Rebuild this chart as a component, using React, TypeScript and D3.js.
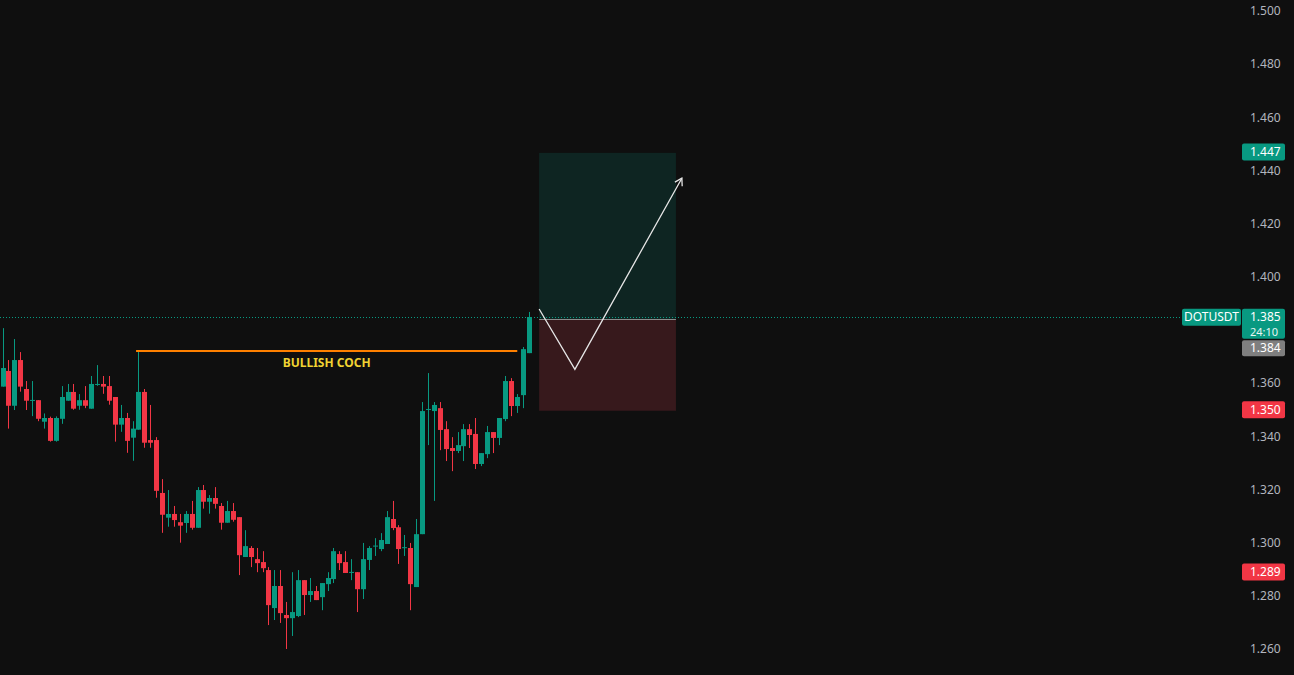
import { useEffect, useRef } from 'react';
import * as d3 from 'd3';

// OHLC, one entry per bar (oldest first)
const opens = [
  1.3587, 1.3646, 1.3515, 1.3687, 1.3578, 1.3534, 1.3536, 1.3455, 1.3469, 1.3383,
  1.3466, 1.3534, 1.3567, 1.3515, 1.3536, 1.3504, 1.3595, 1.3597, 1.3589, 1.3548,
  1.3444, 1.3469, 1.3395, 1.3425, 1.3567, 1.3386, 1.3386, 1.3187, 1.3094, 1.3108,
  1.3077, 1.3074, 1.3108, 1.3056, 1.3198, 1.3154, 1.3168, 1.3138, 1.3075, 1.3119,
  1.3096, 1.2946, 1.2980, 1.2938, 1.2927, 1.2897, 1.2754, 1.2837, 1.2728, 1.2716,
  1.2724, 1.2859, 1.2803, 1.2818, 1.2795, 1.2844, 1.2863, 1.2957, 1.2927, 1.2888,
  1.2889, 1.2825, 1.2935, 1.2987, 1.2976, 1.2995, 1.3089, 1.3058, 1.2980, 1.2980,
  1.2833, 1.3032, 1.3500, 1.3495, 1.3506, 1.3427, 1.3356, 1.3345, 1.3363, 1.3427,
  1.3409, 1.3296, 1.3333, 1.3416, 1.3394, 1.3465, 1.3608, 1.3514, 1.3555, 1.3713,
];
const highs = [
  1.3807, 1.3687, 1.3766, 1.3717, 1.3608, 1.3608, 1.3536, 1.3486, 1.3474, 1.3475,
  1.3589, 1.3597, 1.3597, 1.3559, 1.3589, 1.3627, 1.3668, 1.3627, 1.3627, 1.3548,
  1.3518, 1.3488, 1.3457, 1.3721, 1.3578, 1.3518, 1.3397, 1.3239, 1.3198, 1.3138,
  1.3108, 1.3119, 1.3157, 1.3209, 1.3217, 1.3179, 1.3209, 1.3149, 1.3157, 1.3149,
  1.3096, 1.3047, 1.2987, 1.2980, 1.2968, 1.2908, 1.2897, 1.2897, 1.2777, 1.2889,
  1.2897, 1.2859, 1.2867, 1.2837, 1.2848, 1.2889, 1.2980, 1.2968, 1.2968, 1.2938,
  1.2889, 1.2999, 1.2987, 1.3017, 1.3036, 1.3119, 1.3157, 1.3066, 1.3029, 1.2999,
  1.3089, 1.3529, 1.3638, 1.3529, 1.3529, 1.3457, 1.3397, 1.3416, 1.3446, 1.3446,
  1.3469, 1.3337, 1.3439, 1.3416, 1.3469, 1.3627, 1.3619, 1.3559, 1.3736, 1.3868,
];
const lows = [
  1.3587, 1.3429, 1.3499, 1.3568, 1.3499, 1.3476, 1.3457, 1.3429, 1.3380, 1.3380,
  1.3447, 1.3534, 1.3500, 1.3500, 1.3506, 1.3504, 1.3590, 1.3560, 1.3519, 1.3380,
  1.3417, 1.3338, 1.3308, 1.3425, 1.3357, 1.3357, 1.3169, 1.3037, 1.3060, 1.3060,
  1.3000, 1.3037, 1.3049, 1.3056, 1.3128, 1.3109, 1.3128, 1.3049, 1.3075, 1.3079,
  1.2878, 1.2946, 1.2908, 1.2889, 1.2889, 1.2690, 1.2709, 1.2698, 1.2600, 1.2649,
  1.2720, 1.2728, 1.2777, 1.2784, 1.2746, 1.2818, 1.2848, 1.2897, 1.2886, 1.2859,
  1.2739, 1.2788, 1.2897, 1.2950, 1.2968, 1.2995, 1.3047, 1.2920, 1.2950, 1.2746,
  1.2833, 1.3032, 1.3367, 1.3157, 1.3348, 1.3307, 1.3269, 1.3337, 1.3307, 1.3356,
  1.3277, 1.3288, 1.3318, 1.3337, 1.3367, 1.3457, 1.3476, 1.3488, 1.3506, 1.3713,
];
const closes = [
  1.3657, 1.3515, 1.3687, 1.3587, 1.3534, 1.3537, 1.3466, 1.3469, 1.3383, 1.3469,
  1.3548, 1.3567, 1.3504, 1.3536, 1.3515, 1.3597, 1.3597, 1.3587, 1.3534, 1.3444,
  1.3469, 1.3383, 1.3429, 1.3567, 1.3376, 1.3376, 1.3195, 1.3105, 1.3108, 1.3085,
  1.3064, 1.3108, 1.3056, 1.3198, 1.3154, 1.3168, 1.3146, 1.3075, 1.3119, 1.3086,
  1.2953, 1.2987, 1.2946, 1.2923, 1.2904, 1.2765, 1.2837, 1.2735, 1.2716, 1.2739,
  1.2859, 1.2803, 1.2818, 1.2784, 1.2848, 1.2867, 1.2968, 1.2923, 1.2886, 1.2890,
  1.2825, 1.2938, 1.2980, 1.2989, 1.3010, 1.3096, 1.3055, 1.2976, 1.2983, 1.2844,
  1.3032, 1.3495, 1.3503, 1.3518, 1.3424, 1.3352, 1.3345, 1.3367, 1.3427, 1.3405,
  1.3296, 1.3337, 1.3416, 1.3394, 1.3469, 1.3608, 1.3514, 1.3548, 1.3728, 1.3849,
];

const priceTicks = [1.5, 1.48, 1.46, 1.44, 1.42, 1.4, 1.36, 1.34, 1.32, 1.3, 1.28, 1.26];

const symbol = 'DOTUSDT';
const lastPrice = 1.385;
const countdown = '24:10';
const entryPrice = 1.384;
const targetPrice = 1.447;
const stopPrice = 1.35;
const lowMarker = 1.289;

// "BULLISH COCH" level (bar positions are fractional bar indices)
const chochLabel = 'BULLISH COCH';
const chochPrice = 1.3721;
const chochBars = [22.6, 87.1];

// long position box and projected path
const positionBars = [90.8, 113.95];
const pathBars = [90.8, 96.85, 114.95];
const pathPrices = [1.3879, 1.3652, 1.4371];

const GREEN = '#089981';
const RED = '#f23645';
const BG = '#0f0f0f';
const FONT = '"Noto Sans", Roboto, sans-serif';

export default function App() {
  const ref = useRef<SVGSVGElement>(null);

  useEffect(() => {
    if (!ref.current) return;
    const svg = d3.select(ref.current);
    svg.selectAll('*').remove();

    const width = 1294;
    const height = 675;

    const x = d3.scaleLinear().domain([0, 89]).range([2.5, 528.5]);
    const y = d3.scaleLinear().domain([1.26, 1.5]).range([649, 11]);

    svg.append('rect').attr('width', width).attr('height', height).attr('fill', BG);

    // position box
    const bx0 = x(positionBars[0]);
    const bx1 = x(positionBars[1]);
    svg.append('rect')
      .attr('x', bx0).attr('y', y(targetPrice) + 1)
      .attr('width', bx1 - bx0).attr('height', y(entryPrice) - y(targetPrice) - 1)
      .attr('fill', '#0e2522');
    svg.append('rect')
      .attr('x', bx0).attr('y', y(entryPrice))
      .attr('width', bx1 - bx0).attr('height', y(stopPrice) - y(entryPrice) + 1)
      .attr('fill', '#37191c');
    svg.append('line')
      .attr('x1', bx0).attr('x2', bx1)
      .attr('y1', Math.round(y(entryPrice)) + 0.5).attr('y2', Math.round(y(entryPrice)) + 0.5)
      .attr('stroke', '#8c8c8c').attr('stroke-width', 1);

    // last price dotted line
    const ly = Math.round(y(lastPrice)) + 0.5;
    svg.append('line')
      .attr('x1', 0).attr('x2', 1182)
      .attr('y1', ly).attr('y2', ly)
      .attr('stroke', GREEN).attr('stroke-width', 1)
      .attr('stroke-dasharray', '1 2');

    // candles
    const idx = d3.range(opens.length);
    const candles = svg.append('g');
    candles.selectAll('line')
      .data(idx)
      .join('line')
      .attr('x1', i => Math.round(x(i)) + 0.5)
      .attr('x2', i => Math.round(x(i)) + 0.5)
      .attr('y1', i => y(highs[i]))
      .attr('y2', i => y(lows[i]))
      .attr('stroke', i => (closes[i] >= opens[i] ? GREEN : RED))
      .attr('stroke-width', 1);
    candles.selectAll('rect')
      .data(idx)
      .join('rect')
      .attr('x', i => Math.round(x(i)) - 2)
      .attr('width', 5)
      .attr('y', i => y(Math.max(opens[i], closes[i])))
      .attr('height', i => Math.max(1, Math.abs(y(opens[i]) - y(closes[i]))))
      .attr('fill', i => (closes[i] >= opens[i] ? GREEN : RED));

    // choch level
    const cy = y(chochPrice);
    svg.append('line')
      .attr('x1', x(chochBars[0])).attr('x2', x(chochBars[1]))
      .attr('y1', cy).attr('y2', cy)
      .attr('stroke', '#ff8000').attr('stroke-width', 2);
    svg.append('text')
      .attr('x', (x(chochBars[0]) + x(chochBars[1])) / 2)
      .attr('y', cy + 16)
      .attr('text-anchor', 'middle')
      .style('font-family', FONT)
      .style('font-size', '12px')
      .style('font-weight', 'bold')
      .style('fill', '#f0d332')
      .text(chochLabel);

    // projected path with arrow head
    const pts = pathBars.map((b, i) => [x(b), y(pathPrices[i])] as [number, number]);
    svg.append('path')
      .attr('d', d3.line()(pts))
      .attr('fill', 'none')
      .attr('stroke', '#e6e6e6')
      .attr('stroke-width', 1.3);
    const [tx, ty] = pts[2];
    const [px, py] = pts[1];
    const ang = Math.atan2(ty - py, tx - px);
    const head = [ang + Math.PI - 0.55, ang + Math.PI + 0.55].map(a => [tx + 8 * Math.cos(a), ty + 8 * Math.sin(a)]);
    svg.append('path')
      .attr('d', `M${head[0][0]},${head[0][1]}L${tx},${ty}L${head[1][0]},${head[1][1]}`)
      .attr('fill', 'none')
      .attr('stroke', '#e6e6e6')
      .attr('stroke-width', 1.3);

    // price axis
    const axisX = 1250;
    svg.append('g')
      .selectAll('text')
      .data(priceTicks)
      .join('text')
      .attr('x', axisX)
      .attr('y', d => y(d))
      .attr('dy', '0.35em')
      .style('font-family', FONT)
      .style('font-size', '12px')
      .style('fill', '#b2b5be')
      .text(d => d3.format('.3f')(d));

    const tag = (top: number, h: number, fill: string) =>
      svg.append('rect')
        .attr('x', 1242).attr('y', top)
        .attr('width', 43).attr('height', h)
        .attr('rx', 2)
        .attr('fill', fill);
    const tagText = (cyText: number, txt: string, color = '#ffffff', size = 12) =>
      svg.append('text')
        .attr('x', axisX).attr('y', cyText).attr('dy', '0.35em')
        .style('font-family', FONT).style('font-size', `${size}px`)
        .style('fill', color)
        .text(txt);

    // target / stop / low tags
    const simple = [
      { p: targetPrice, c: GREEN },
      { p: stopPrice, c: RED },
      { p: lowMarker, c: RED },
    ];
    simple.forEach(s => {
      const yc = y(s.p);
      tag(yc - 8.5, 17, s.c);
      tagText(yc, d3.format('.3f')(s.p));
    });

    // last price tag with countdown, entry tag pushed below it
    const lastTop = y(lastPrice) - 8;
    tag(lastTop, 30, GREEN);
    tagText(lastTop + 8, d3.format('.3f')(lastPrice));
    tagText(lastTop + 23, countdown, '#e8f5f2', 11);
    tag(lastTop + 31.5, 16, '#7f7f7f');
    tagText(lastTop + 39.5, d3.format('.3f')(entryPrice));

    // symbol tag
    svg.append('rect')
      .attr('x', 1182).attr('y', lastTop)
      .attr('width', 59).attr('height', 17)
      .attr('rx', 2)
      .attr('fill', GREEN);
    svg.append('text')
      .attr('x', 1211.5).attr('y', lastTop + 8.5).attr('dy', '0.35em')
      .attr('text-anchor', 'middle')
      .style('font-family', FONT).style('font-size', '12px')
      .style('fill', '#ffffff')
      .text(symbol);
  }, []);

  return (
    <div style={{ position: 'fixed', left: 0, top: 0 }}>
      <svg ref={ref} width={1294} height={675} style={{ display: 'block' }}></svg>
    </div>
  );
}
